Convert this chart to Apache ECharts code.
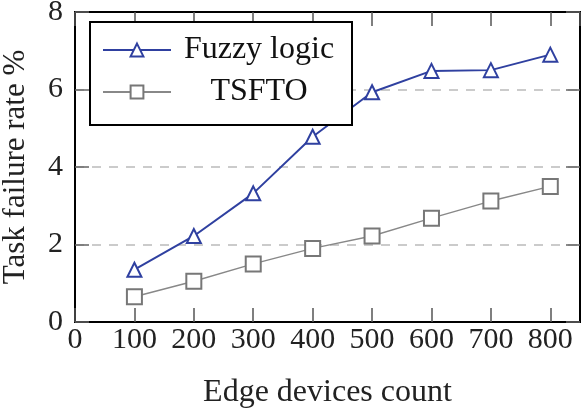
<!DOCTYPE html>
<html>
<head>
<meta charset="utf-8">
<script src="https://cdn.jsdelivr.net/npm/echarts@6/dist/echarts.min.js"></script>
<style>
  html, body { margin: 0; padding: 0; background: #fff; }
  #main { width: 583px; height: 409px; }
</style>
</head>
<body>
<div id="main"></div>
<script>
// data
var devices = [100, 200, 300, 400, 500, 600, 700, 800];
var fuzzyLogic = [1.35, 2.22, 3.32, 4.78, 5.93, 6.48, 6.5, 6.9];
var tsfto = [0.65, 1.05, 1.5, 1.9, 2.22, 2.68, 3.12, 3.5];

function pairs(xs, ys) {
  return xs.map(function (x, i) { return [x, ys[i]]; });
}

var chart = echarts.init(document.getElementById('main'));
var font = 'Liberation Serif';
var frame = { show: true, onZero: false, lineStyle: { color: '#000', width: 2 } };
var xTick = { show: true, inside: true, length: 14, lineStyle: { color: '#555', width: 1.5 } };
var yTick = { show: true, inside: true, length: 14, lineStyle: { color: '#666', width: 1.5 } };

var option = {
  backgroundColor: '#fff',
  textStyle: { fontFamily: font },
  grid: {
    left: 75, right: 3, top: 12, bottom: 87,
    outerBoundsMode: 'none',
    containLabel: false,
    show: true, borderColor: '#000', borderWidth: 2
  },
  legend: {
    orient: 'vertical',
    left: 90, top: 22,
    padding: [12, 10, 17, 12],
    itemWidth: 68, itemHeight: 16, itemGap: 10,
    backgroundColor: '#fff',
    borderColor: '#000', borderWidth: 2,
    data: ['Fuzzy logic', 'TSFTO'],
    formatter: '{a|{name}}',
    textStyle: {
      rich: { a: { width: 166, align: 'center', fontSize: 32, lineHeight: 32, fontFamily: font, color: '#111' } }
    }
  },
  xAxis: [{
    type: 'value', position: 'bottom', min: 0, max: 850, interval: 100,
    name: 'Edge devices count', nameLocation: 'middle', nameGap: 55,
    nameTextStyle: { fontSize: 32, fontFamily: font, color: '#222' },
    axisLine: frame,
    axisTick: xTick,
    axisLabel: { fontSize: 30, fontFamily: font, color: '#222', margin: 3, showMaxLabel: false },
    splitLine: { show: false }
  }, {
    type: 'value', position: 'top', min: 0, max: 850, interval: 100,
    axisLine: frame,
    axisTick: xTick,
    axisLabel: { show: false },
    splitLine: { show: false }
  }],
  yAxis: [{
    type: 'value', position: 'left', min: 0, max: 8, interval: 2,
    name: 'Task failure rate %', nameLocation: 'middle', nameGap: 44,
    nameTextStyle: { fontSize: 31, fontFamily: font, color: '#222' },
    axisLine: frame,
    axisTick: yTick,
    axisLabel: { fontSize: 30, fontFamily: font, color: '#222', margin: 12 },
    splitLine: { show: true, showMinLine: false, showMaxLine: false,
      lineStyle: { color: '#bbb', type: [9, 8], width: 1.5 } }
  }, {
    type: 'value', position: 'right', min: 0, max: 8, interval: 2,
    axisLine: frame,
    axisTick: yTick,
    axisLabel: { show: false },
    splitLine: { show: false }
  }],
  series: [{
    name: 'Fuzzy logic',
    type: 'line',
    xAxisIndex: 1, yAxisIndex: 1,
    data: pairs(devices, fuzzyLogic),
    symbol: 'emptyTriangle', symbolSize: 14,
    color: '#2f40a0',
    lineStyle: { width: 2, color: '#2f40a0' },
    itemStyle: { borderWidth: 2 },
    animation: false
  }, {
    name: 'TSFTO',
    type: 'line',
    xAxisIndex: 0, yAxisIndex: 0,
    data: pairs(devices, tsfto),
    symbol: 'emptyRect', symbolSize: 15,
    color: '#777',
    lineStyle: { width: 1.5, color: '#888' },
    itemStyle: { borderWidth: 2 },
    animation: false
  }]
};

chart.setOption(option);
</script>
</body>
</html>
